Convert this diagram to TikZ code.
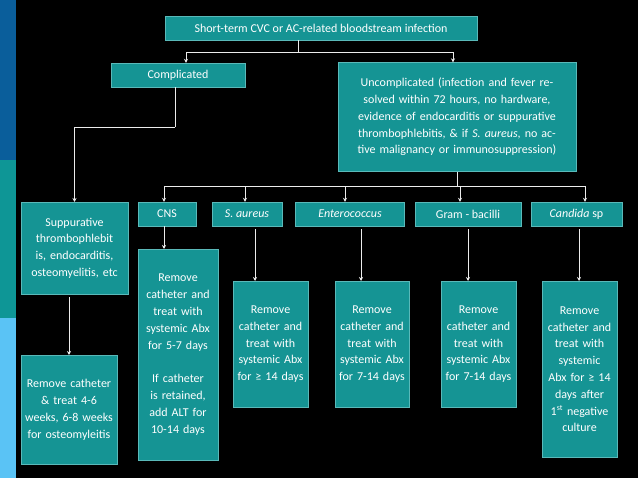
\documentclass[tikz,border=0pt]{standalone}
\usepackage{fontspec}
\setmainfont{Carlito}
\usetikzlibrary{arrows.meta}
\definecolor{boxteal}{RGB}{21,148,148}
\definecolor{boxedge}{RGB}{90,185,185}
\definecolor{stripeA}{RGB}{10,94,155}
\definecolor{stripeB}{RGB}{14,150,150}
\definecolor{stripeC}{RGB}{90,195,245}
\tikzset{
  box/.style={draw=boxedge, fill=boxteal, text=white, align=center, inner sep=1pt,
    font=\fontsize{12}{16.8}\selectfont},
  link/.style={draw=white!85!gray, line width=0.8pt, -{Stealth[length=4pt,width=4pt]}},
  plain/.style={draw=white!85!gray, line width=0.8pt}
}
\begin{document}
\begin{tikzpicture}[x=1pt, y=-1pt]
        \fill[black] (0,0) rectangle (638,478);
        \useasboundingbox (0,0) rectangle (638,478);

        % side stripe
        \fill[stripeA] (0,0) rectangle (16,160);
        \fill[stripeB] (0,160) rectangle (16,318);
        \fill[stripeC] (0,318) rectangle (16,478);

        % top level
        \node[box, minimum width=312pt, minimum height=24pt] (top) at (321,28) {Short-term CVC or AC-related bloodstream infection};
        \node[box, minimum width=134pt, minimum height=24pt] (compl) at (178,75) {Complicated};
        \node[box, minimum width=238pt, minimum height=109pt, text width=228pt] (uncompl) at (457,117)
            {Uncomplicated (infection and fever resolved within 72 hours, no hardware, evidence of endocarditis or suppurative thrombophlebitis, \& if \textit{S. aureus,} no active malignancy or immunosuppression)};

        % second level
        \node[box, minimum width=107pt, minimum height=92pt, text width=104pt, anchor=north] (supp) at (74.5,202)
            {Suppurative thrombophlebit is, endocarditis, osteomyelitis, etc};
        \node[box, minimum width=58pt, minimum height=24pt] (cns) at (167,214) {CNS};
        \node[box, minimum width=70pt, minimum height=24pt] (saur) at (247,214) {\textit{S. aureus}};
        \node[box, minimum width=109pt, minimum height=24pt] (ent) at (350,214) {\textit{Enterococcus}};
        \node[box, minimum width=106pt, minimum height=24pt] (gram) at (468,214) {Gram - bacilli};
        \node[box, minimum width=91pt, minimum height=24pt] (cand) at (576.5,214) {\textit{Candida} sp};

        % treatment boxes
        \node[box, minimum width=96pt, minimum height=109pt, text width=92pt, anchor=north] (treatS) at (69,355)
            {Remove catheter \& treat 4-6 weeks, 6-8 weeks for osteomyleitis};
        \node[box, minimum width=80pt, minimum height=211pt, text width=76pt, anchor=north] (treatC) at (178,249)
            {Remove catheter and treat with systemic Abx for 5-7 days\\[16.8pt] If catheter is retained, add ALT for 10-14 days};
        \node[box, minimum width=75pt, minimum height=126pt, text width=70pt, anchor=north] (treatA) at (270.5,281)
            {Remove catheter and treat with systemic Abx for ≥ 14 days};
        \node[box, minimum width=74pt, minimum height=126pt, text width=70pt, anchor=north] (treatE) at (372,281)
            {Remove catheter and treat with systemic Abx for 7-14 days};
        \node[box, minimum width=75pt, minimum height=126pt, text width=70pt, anchor=north] (treatG) at (478.5,281)
            {Remove catheter and treat with systemic Abx for 7-14 days};
        \node[box, minimum width=75pt, minimum height=176pt, text width=70pt, anchor=north] (treatD) at (579.5,281)
            {Remove catheter and treat with systemic Abx for ≥ 14 days after 1\textsuperscript{st} negative culture};

        % branch points
        \coordinate (j1) at (298,52);
        \coordinate (j2) at (175,127);
        \coordinate (j3) at (457,186);

        % connectors
        \draw[plain] (298,40) -- (j1);
        \draw[link] (j1) -| (compl.north -| 186,0);
        \draw[link] (j1) -| (uncompl.north -| 453,0);
        \draw[plain] (compl.south -| j2) -- (j2);
        \draw[link] (j2) -| (supp.north);
        \draw[plain] (uncompl.south) -- (j3);
        \draw[link] (j3) -| (cns.north -| 164,0);
        \draw[link] (j3) -| (saur.north -| 245,0);
        \draw[link] (j3) -| (ent.north -| 345,0);
        \draw[link] (j3) -| (gram.north -| 460,0);
        \draw[link] (j3) -| (cand.north -| 585,0);
        \draw[link] ([yshift=-3pt]supp.south -| treatS.north) -- (treatS.north);
        \draw[link] (cns.south -| 164,0) -- (treatC.north -| 164,0);
        \draw[link] ([yshift=-3pt]saur.south -| 255,0) -- (treatA.north -| 255,0);
        \draw[link] ([yshift=-3pt]ent.south -| 361,0) -- (treatE.north -| 361,0);
        \draw[link] ([yshift=-3pt]gram.south -| 468,0) -- (treatG.north -| 468,0);
        \draw[link] ([yshift=-3pt]cand.south -| 579,0) -- (treatD.north -| 579,0);
\end{tikzpicture}
\end{document}
